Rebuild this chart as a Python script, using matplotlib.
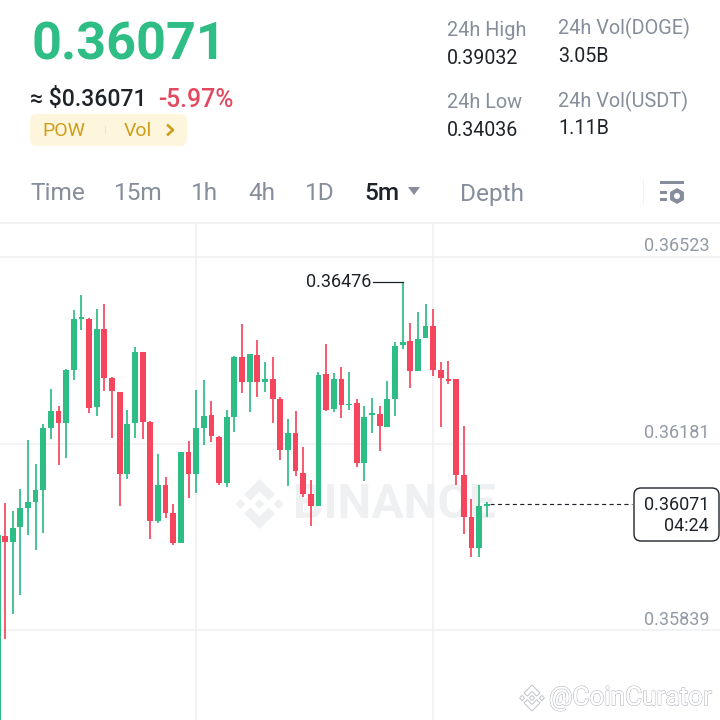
import matplotlib
matplotlib.use("Agg")
import matplotlib.pyplot as plt
import matplotlib.patheffects as pe
from matplotlib.patches import FancyBboxPatch, Polygon, Rectangle, RegularPolygon, Circle

plt.rcParams['font.family'] = ['Roboto', 'DejaVu Sans']

# candles, oldest first
opens = [0.35660, 0.36011, 0.36000, 0.36029, 0.36064, 0.36074, 0.36096, 0.36209, 0.36241, 0.36218,
         0.36315, 0.36410, 0.36409, 0.36248, 0.36391, 0.36301, 0.36276, 0.36125, 0.36218, 0.36349,
         0.36220, 0.36040, 0.36106, 0.36054, 0.35999, 0.36165, 0.36125, 0.36210, 0.36234, 0.36193,
         0.36108, 0.36230, 0.36339, 0.36293, 0.36344, 0.36293, 0.36299, 0.36263, 0.36169, 0.36200,
         0.36128, 0.36088, 0.36066, 0.36308, 0.36244, 0.36299, 0.36251, 0.36255, 0.36145, 0.36233,
         0.36235, 0.36212, 0.36263, 0.36362, 0.36368, 0.36313, 0.36374, 0.36396, 0.36316, 0.36299,
         0.36299, 0.36123, 0.36046, 0.35990, 0.36066]
highs = [0.36014, 0.36072, 0.36057, 0.36097, 0.36188, 0.36144, 0.36216, 0.36281, 0.36250, 0.36318,
         0.36426, 0.36453, 0.36411, 0.36428, 0.36436, 0.36303, 0.36276, 0.36243, 0.36357, 0.36349,
         0.36222, 0.36162, 0.36119, 0.36071, 0.36166, 0.36186, 0.36279, 0.36298, 0.36259, 0.36194,
         0.36243, 0.36342, 0.36400, 0.36345, 0.36371, 0.36330, 0.36340, 0.36267, 0.36226, 0.36241,
         0.36175, 0.36115, 0.36312, 0.36364, 0.36311, 0.36322, 0.36312, 0.36263, 0.36249, 0.36264,
         0.36250, 0.36296, 0.36367, 0.36476, 0.36402, 0.36422, 0.36436, 0.36427, 0.36330, 0.36333,
         0.36299, 0.36214, 0.36079, 0.36106, 0.36074]
lows = [0.35660, 0.35823, 0.35869, 0.35903, 0.36014, 0.35986, 0.36017, 0.36190, 0.36142, 0.36154,
        0.36298, 0.36389, 0.36237, 0.36232, 0.36278, 0.36191, 0.36067, 0.36116, 0.36192, 0.36189,
        0.36006, 0.36036, 0.36044, 0.35996, 0.35999, 0.36081, 0.36091, 0.36179, 0.36184, 0.36105,
        0.36102, 0.36202, 0.36274, 0.36238, 0.36266, 0.36275, 0.36218, 0.36151, 0.36104, 0.36122,
        0.36083, 0.36030, 0.36066, 0.36240, 0.36238, 0.36228, 0.36243, 0.36139, 0.36113, 0.36201,
        0.36168, 0.36211, 0.36232, 0.36354, 0.36282, 0.36313, 0.36374, 0.36304, 0.36212, 0.36290,
        0.36106, 0.36016, 0.35973, 0.35974, 0.36047]
closes = [0.36014, 0.36000, 0.36027, 0.36064, 0.36074, 0.36096, 0.36209, 0.36240, 0.36218, 0.36315,
          0.36410, 0.36413, 0.36247, 0.36391, 0.36301, 0.36277, 0.36126, 0.36217, 0.36349, 0.36221,
          0.36040, 0.36106, 0.36054, 0.35999, 0.36166, 0.36125, 0.36209, 0.36232, 0.36194, 0.36108,
          0.36229, 0.36339, 0.36294, 0.36345, 0.36293, 0.36299, 0.36263, 0.36169, 0.36200, 0.36130,
          0.36089, 0.36066, 0.36307, 0.36243, 0.36299, 0.36251, 0.36254, 0.36146, 0.36230, 0.36237,
          0.36213, 0.36262, 0.36360, 0.36367, 0.36313, 0.36373, 0.36396, 0.36316, 0.36301, 0.36296,
          0.36124, 0.36047, 0.35990, 0.36066, 0.36071]

price_ticks = [0.36523, 0.36181, 0.35839]
grid_candles = [26, 57]   # vertical grid lines sit on these candles
high_idx = 53

GREEN = '#2EBD85'
RED = '#F6465D'
GRID = '#EEF0F2'
GRAY = '#868E9B'
DARK = '#1E2329'
LABEL = '#929AA5'
GOLD = '#CF9D1C'

fig = plt.figure(figsize=(7.2, 7.2), dpi=100)

# pixel layer for header and watermark
ui = fig.add_axes([0, 0, 1, 1], zorder=0)
ui.set_xlim(0, 720)
ui.set_ylim(720, 0)
ui.axis('off')

# chart layer, only the part below the tab bar
ax = fig.add_axes([0, 0, 1, 496 / 720], zorder=1)
ax.patch.set_alpha(0)
ax.set_xlim(0.3466, 94.51)
ax.set_ylim(0.35675, 0.36583)
ax.axis('off')

# header
ui.text(31, 45, '0.36071', color=GREEN, fontsize=37.5, fontweight='bold', va='center')
ui.text(30, 100, '≈ $0.36071', color=DARK, fontsize=16.5, fontweight='medium', va='center')
ui.text(158, 100, '-5.97%', color='#E2495F', fontsize=17.8, fontweight='medium', va='center')

ui.add_patch(FancyBboxPatch((34, 118), 149, 24, boxstyle='round,pad=4,rounding_size=7', fc='#FEF6DC', ec='none'))
ui.text(42, 131, 'POW', color=GOLD, fontsize=14, va='center')
ui.text(124, 131, 'Vol', color=GOLD, fontsize=14, va='center')
ui.add_patch(Rectangle((104.5, 126), 1, 8, fc='#EFE3BE', ec='none'))
ui.plot([168, 173, 168], [125.5, 130, 134.5], color=GOLD, lw=1.9)

ui.text(447, 30, '24h High', color=GRAY, fontsize=14.3, va='center')
ui.text(447, 58, '0.39032', color=DARK, fontsize=14.1, va='center')
ui.text(447, 102, '24h Low', color=GRAY, fontsize=14.3, va='center')
ui.text(447, 130, '0.34036', color=DARK, fontsize=14.1, va='center')
ui.text(558, 28, '24h Vol(DOGE)', color=GRAY, fontsize=14.3, va='center')
ui.text(558, 57, '3.05B', color=DARK, fontsize=14.1, va='center')
ui.text(558, 101, '24h Vol(USDT)', color=GRAY, fontsize=14.3, va='center')
ui.text(558, 129, '1.11B', color=DARK, fontsize=14.1, va='center')

# tabs
for label, x in [('Time', 30), ('15m', 114), ('1h', 191), ('4h', 248), ('1D', 305), ('Depth', 460)]:
    ui.text(x, 194, label, color=GRAY, fontsize=17.6, va='center')
ui.text(364, 194, '5m', color=DARK, fontsize=17.6, fontweight='medium', va='center')
ui.add_patch(Polygon([(408, 187), (420, 187), (414, 195)], fc=GRAY, ec='none'))
ui.add_patch(Rectangle((642.5, 180), 1.5, 24, fc=GRID, ec='none'))

# settings icon
ui.add_patch(Rectangle((660, 181), 24, 3, fc=GRAY, ec='none'))
ui.add_patch(Rectangle((660, 191), 7, 3, fc=GRAY, ec='none'))
ui.add_patch(Rectangle((660, 198), 7, 3, fc=GRAY, ec='none'))
ui.add_patch(RegularPolygon((677, 196), 6, radius=8, fc=GRAY, ec='none'))
ui.add_patch(Circle((677, 196), 3, fc='white', ec='none'))

ui.axhline(222.5, color=GRID, lw=1.2)

# BINANCE watermark
def logo(axes, cx, cy, r, **kw):
    for dx in (-0.76, 0, 0.76):
        s = 0.2
        pts = [(dx, -s), (dx + s, 0), (dx, s), (dx - s, 0)]
        axes.add_patch(Polygon([(cx + r * a, cy + r * b) for a, b in pts], **kw))
    for sign in (-1, 1):
        pts = [(0, -1), (0.62, -0.38), (0.36, -0.14), (0, -0.5), (-0.36, -0.14), (-0.62, -0.38)]
        axes.add_patch(Polygon([(cx + r * a, cy + sign * r * b) for a, b in pts], **kw))

logo(ui, 259.5, 504, 25, fc='#EEF0F2', ec='none')
ui.text(293, 505, 'BINANCE', color='#EEF0F2', fontsize=34.5, fontweight='bold', va='center')

# faint credit in the corner
logo(ui, 532, 698, 13, fc='white', ec='#BFC3C9', lw=0.7)
ui.text(549, 698, '@CoinCurator', color='white', fontsize=18.8, va='center',
        path_effects=[pe.withStroke(linewidth=1.0, foreground='#B4B8BF'), pe.Normal()])

# grid
for p in price_ticks:
    ax.axhline(p, color=GRID, lw=1.1, zorder=1)
    ax.text(0.985, p + 0.00019, f'{p:.5f}', color=LABEL, fontsize=13, ha='right', va='center',
            transform=ax.get_yaxis_transform(), zorder=3)
for i in grid_candles:
    ax.axvline(i, color=GRID, lw=1.1, zorder=1)

# candles, the first one is cut by the left edge so its body is drawn a bit wider to stay visible
for i in range(len(opens)):
    color = GREEN if closes[i] >= opens[i] else RED
    ax.vlines(i, lows[i], highs[i], color=color, lw=1.25, zorder=2)
    ax.bar(i, abs(closes[i] - opens[i]), bottom=min(opens[i], closes[i]),
           width=0.76 if i > 0 else 0.95, color=color, zorder=2)

# highest price marker
ax.plot([high_idx - 3.9, high_idx], [highs[high_idx], highs[high_idx]], color=DARK, lw=0.9, zorder=3)
ax.text(high_idx - 4.05, highs[high_idx], f'{highs[high_idx]:.5f}', color=DARK, fontsize=13,
        ha='right', va='center', zorder=3)

# last price line and box
last = closes[-1]
ax.plot([len(closes) - 1 + 0.4, 83.0], [last, last], color=DARK, lw=0.85, dashes=(3.5, 2.8), zorder=3)
ui.add_patch(FancyBboxPatch((640, 494), 73, 41, boxstyle='round,pad=6,rounding_size=7', fc='white', ec=DARK, lw=1.0))
ui.text(709, 505, f'{last:.5f}', color=DARK, fontsize=13, ha='right', va='center')
ui.text(709, 526, '04:24', color=DARK, fontsize=13, ha='right', va='center')

fig.savefig('out.png', dpi=100)
